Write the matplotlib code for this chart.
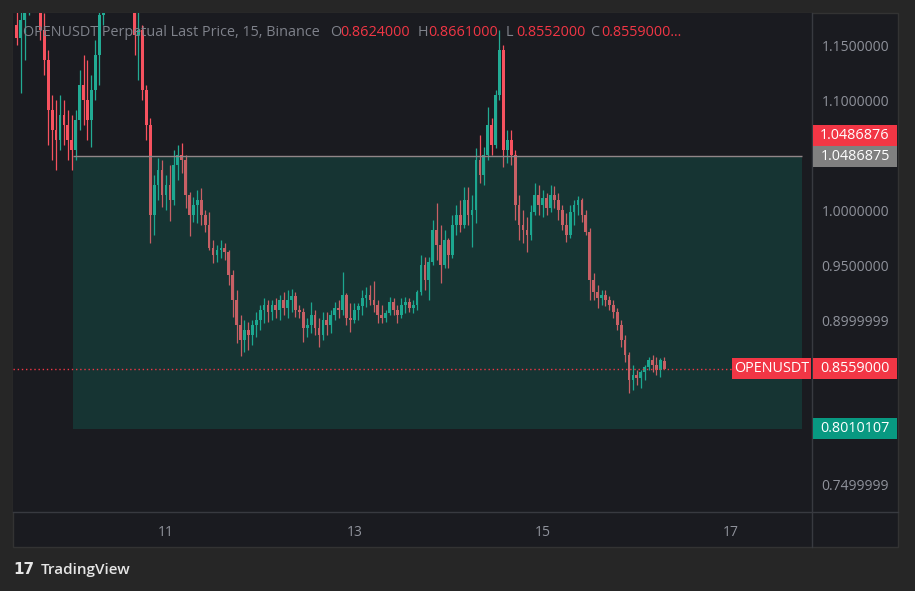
import matplotlib
matplotlib.use("Agg")
import matplotlib.pyplot as plt
from matplotlib.patches import Rectangle
import numpy as np

# ---------------- data (hourly candles) ----------------
start_day = 9.4167          # first candle time (day of month)
step_day = 1.0 / 24.0       # candle spacing

opens = [1.1682, 1.1564, 1.1727, 1.1864, 1.2000, 1.1955, 1.1909, 1.1636, 1.1364, 1.0909,
         1.0727, 1.0636, 1.0864, 1.0773, 1.0636, 1.0545, 1.0818, 1.1136, 1.1000, 1.0818,
         1.1091, 1.1409, 1.1773, 1.1909, 1.2000, 1.2091, 1.2136, 1.2182, 1.2091, 1.2045,
         1.2000, 1.1591, 1.1636, 1.1091, 1.0773, 0.9955, 1.0227, 1.0364, 1.0136, 1.0227,
         1.0091, 1.0409, 1.0500, 1.0455, 1.0136, 0.9955, 1.0045, 1.0091, 0.9955, 0.9864,
         0.9655, 0.9591, 0.9636, 0.9655, 0.9618, 0.9409, 0.9182, 0.8955, 0.8818, 0.8909,
         0.8864, 0.8955, 0.9000, 0.9091, 0.9136, 0.9073, 0.9136, 0.9091, 0.9182, 0.9109,
         0.9182, 0.9218, 0.9091, 0.9073, 0.8927, 0.8955, 0.9045, 0.8927, 0.8864, 0.9000,
         0.8955, 0.9045, 0.9109, 0.9091, 0.9227, 0.9018, 0.9000, 0.9091, 0.9127, 0.9200,
         0.9227, 0.9182, 0.9136, 0.9045, 0.9018, 0.9064, 0.9164, 0.9091, 0.9045, 0.9136,
         0.9164, 0.9109, 0.9136, 0.9255, 0.9500, 0.9364, 0.9527, 0.9818, 0.9682, 0.9500,
         0.9727, 0.9591, 0.9864, 0.9955, 0.9864, 1.0091, 0.9955, 1.0000, 1.0455, 1.0318,
         1.0500, 1.0773, 1.0591, 1.1045, 1.1455, 1.0545, 1.0636, 1.0500, 1.0045, 0.9864,
         0.9818, 0.9773, 0.9982, 1.0136, 1.0045, 1.0109, 1.0018, 1.0136, 1.0091, 1.0000,
         0.9864, 0.9773, 0.9982, 1.0045, 1.0091, 0.9955, 0.9800, 0.9364, 0.9255, 0.9200,
         0.9227, 0.9182, 0.9136, 0.9073, 0.8955, 0.8818, 0.8682, 0.8455, 0.8500, 0.8473,
         0.8527, 0.8573, 0.8636, 0.8591, 0.8545, 0.8624]

highs = [1.1864, 1.1818, 1.1955, 1.2091, 1.2136, 1.2091, 1.2000, 1.1791, 1.1455, 1.1045,
         1.1000, 1.1045, 1.1000, 1.0909, 1.0864, 1.0909, 1.1273, 1.1409, 1.1364, 1.1227,
         1.1545, 1.1864, 1.2000, 1.2091, 1.2136, 1.2227, 1.2273, 1.2273, 1.2182, 1.2136,
         1.2091, 1.1909, 1.1682, 1.1136, 1.0836, 1.0318, 1.0473, 1.0455, 1.0318, 1.0409,
         1.0545, 1.0591, 1.0609, 1.0500, 1.0164, 1.0118, 1.0182, 1.0200, 1.0000, 0.9982,
         0.9727, 0.9682, 0.9727, 0.9700, 0.9636, 0.9455, 0.9273, 0.9045, 0.9000, 0.8982,
         0.9000, 0.9073, 0.9136, 0.9200, 0.9182, 0.9182, 0.9200, 0.9227, 0.9255, 0.9273,
         0.9282, 0.9255, 0.9136, 0.9109, 0.9018, 0.9164, 0.9091, 0.9018, 0.9073, 0.9073,
         0.9091, 0.9164, 0.9182, 0.9436, 0.9245, 0.9155, 0.9155, 0.9155, 0.9273, 0.9300,
         0.9318, 0.9355, 0.9182, 0.9136, 0.9091, 0.9209, 0.9200, 0.9136, 0.9200, 0.9209,
         0.9200, 0.9182, 0.9273, 0.9591, 0.9573, 0.9573, 0.9909, 1.0064, 0.9864, 0.9818,
         0.9745, 0.9955, 1.0045, 1.0091, 1.0209, 1.0209, 1.0136, 1.0564, 1.0682, 1.0573,
         1.0936, 1.0836, 1.1091, 1.1636, 1.1500, 1.0727, 1.0727, 1.0545, 1.0136, 1.0000,
         0.9936, 1.0045, 1.0245, 1.0227, 1.0182, 1.0155, 1.0227, 1.0218, 1.0155, 1.0045,
         0.9973, 1.0045, 1.0091, 1.0127, 1.0109, 1.0000, 0.9836, 0.9427, 0.9318, 0.9273,
         0.9273, 0.9218, 0.9182, 0.9109, 0.9000, 0.8864, 0.8709, 0.8591, 0.8545, 0.8545,
         0.8591, 0.8664, 0.8682, 0.8664, 0.8655, 0.8661]

lows = [1.1500, 1.1064, 1.1364, 1.1773, 1.1864, 1.1818, 1.1545, 1.1227, 1.0591, 1.0455,
        1.0364, 1.0545, 1.0591, 1.0455, 1.0364, 1.0455, 1.0727, 1.0773, 1.0636, 1.0573,
        1.1000, 1.1136, 1.1682, 1.1864, 1.1909, 1.2000, 1.2045, 1.2045, 1.1955, 1.1909,
        1.1409, 1.1182, 1.1000, 1.0636, 0.9700, 0.9773, 1.0091, 1.0027, 1.0000, 0.9900,
        1.0045, 1.0273, 1.0336, 1.0018, 0.9764, 0.9891, 0.9882, 0.9864, 0.9800, 0.9636,
        0.9518, 0.9527, 0.9564, 0.9545, 0.9318, 0.9027, 0.8791, 0.8673, 0.8709, 0.8727,
        0.8773, 0.8845, 0.8909, 0.8973, 0.8982, 0.9000, 0.9018, 0.9000, 0.9045, 0.9018,
        0.9073, 0.9027, 0.9018, 0.8800, 0.8845, 0.8882, 0.8864, 0.8755, 0.8818, 0.8864,
        0.8882, 0.9000, 0.9018, 0.9045, 0.8955, 0.8891, 0.8973, 0.9000, 0.9045, 0.9118,
        0.9136, 0.9073, 0.8973, 0.8973, 0.8982, 0.9045, 0.9045, 0.8973, 0.9018, 0.9064,
        0.9073, 0.9064, 0.9091, 0.9227, 0.9273, 0.9182, 0.9500, 0.9545, 0.9336, 0.9473,
        0.9473, 0.9564, 0.9773, 0.9800, 0.9836, 0.9864, 0.9664, 0.9882, 1.0245, 1.0227,
        1.0455, 1.0500, 1.0564, 1.1000, 1.0391, 1.0427, 1.0409, 0.9909, 0.9727, 0.9700,
        0.9618, 0.9727, 0.9955, 0.9955, 0.9936, 0.9955, 0.9982, 1.0018, 0.9909, 0.9818,
        0.9709, 0.9745, 0.9864, 0.9955, 0.9891, 0.9773, 0.9182, 0.9182, 0.9109, 0.9136,
        0.9127, 0.9091, 0.9018, 0.8909, 0.8755, 0.8618, 0.8336, 0.8364, 0.8409, 0.8382,
        0.8455, 0.8545, 0.8527, 0.8500, 0.8482, 0.8552]

closes = [1.1564, 1.1727, 1.1864, 1.2000, 1.1955, 1.1909, 1.1636, 1.1364, 1.0909, 1.0727,
          1.0636, 1.0864, 1.0773, 1.0636, 1.0545, 1.0818, 1.1136, 1.1000, 1.0818, 1.1091,
          1.1409, 1.1773, 1.1909, 1.2000, 1.2091, 1.2136, 1.2182, 1.2091, 1.2045, 1.2000,
          1.1591, 1.1636, 1.1091, 1.0773, 0.9955, 1.0227, 1.0364, 1.0136, 1.0227, 1.0091,
          1.0409, 1.0500, 1.0455, 1.0136, 0.9955, 1.0045, 1.0091, 0.9955, 0.9864, 0.9655,
          0.9591, 0.9636, 0.9655, 0.9618, 0.9409, 0.9182, 0.8955, 0.8818, 0.8909, 0.8864,
          0.8955, 0.9000, 0.9091, 0.9136, 0.9073, 0.9136, 0.9091, 0.9182, 0.9109, 0.9182,
          0.9218, 0.9091, 0.9073, 0.8927, 0.8955, 0.9045, 0.8927, 0.8864, 0.9000, 0.8955,
          0.9045, 0.9109, 0.9091, 0.9227, 0.9018, 0.9000, 0.9091, 0.9127, 0.9200, 0.9227,
          0.9182, 0.9136, 0.9045, 0.9018, 0.9064, 0.9164, 0.9091, 0.9045, 0.9136, 0.9164,
          0.9109, 0.9136, 0.9255, 0.9500, 0.9364, 0.9527, 0.9818, 0.9682, 0.9500, 0.9727,
          0.9591, 0.9864, 0.9955, 0.9864, 1.0091, 0.9955, 1.0000, 1.0455, 1.0318, 1.0500,
          1.0773, 1.0591, 1.1045, 1.1455, 1.0545, 1.0636, 1.0500, 1.0045, 0.9864, 0.9818,
          0.9773, 0.9982, 1.0136, 1.0045, 1.0109, 1.0018, 1.0136, 1.0091, 1.0000, 0.9864,
          0.9773, 0.9982, 1.0045, 1.0091, 0.9955, 0.9800, 0.9364, 0.9255, 0.9200, 0.9227,
          0.9182, 0.9136, 0.9073, 0.8955, 0.8818, 0.8682, 0.8455, 0.8500, 0.8473, 0.8527,
          0.8573, 0.8636, 0.8591, 0.8545, 0.8636, 0.8559]

x_tick_days = [11, 13, 15, 17]
x_tick_labels = ["11", "13", "15", "17"]
# ticks visible on the price scale (1.05, 0.85 and 0.80 sit under the price labels)
y_tick_values = [0.75, 0.90, 0.95, 1.00, 1.10, 1.15]
y_tick_labels = ["0.7499999", "0.8999999", "0.9500000",
                 "1.0000000", "1.1000000", "1.1500000"]

zone_top = 1.0486875
zone_top_alt = 1.0486876
zone_bottom = 0.8010107
zone_start_day = 10.012
zone_end_day = 17.754
last_price = 0.8559

title_main = "OPENUSDT Perpetual Last Price, 15, Binance"
ohlc_labels = ["O", "H", "L", "C"]
ohlc_values = ["0.8624000", "0.8661000", "0.8552000", "0.8559000..."]

# ---------------- style ----------------
UP = "#22ab94"
DOWN = "#f7525f"
BG_OUT = "#262626"
BG = "#1a1b20"
AXIS_TXT = "#8f929b"
SEP = "#383a40"
FONT = "Open Sans"

W, H = 915, 591
fig = plt.figure(figsize=(W / 100, H / 100), dpi=100, facecolor=BG_OUT)

# pixel layout
PL, PT, PR, PB = 13, 13, 812, 512     # plot area
AR, AB = 898, 547                      # outer chart panel right / bottom

def fx(px):
    return px / W

def fy(py):
    return 1 - py / H

# chart panel background
fig.patches.append(Rectangle((fx(PL), fy(AB)), fx(AR) - fx(PL), fy(PT) - fy(AB),
                             transform=fig.transFigure, facecolor=BG,
                             edgecolor="#333333", linewidth=1, zorder=-10))

ax = fig.add_axes([fx(PL), fy(PB), fx(PR) - fx(PL), fy(PT) - fy(PB)])
ax.set_zorder(1)
ax.set_facecolor(BG)
ymin, ymax = 0.72545, 1.1791
xmin, xmax = 9.3758, 17.860
ax.set_xlim(xmin, xmax)
ax.set_ylim(ymin, ymax)
for s in ax.spines.values():
    s.set_visible(False)

# candles
o = np.array(opens); h = np.array(highs); l = np.array(lows); c = np.array(closes)
t = start_day + step_day * np.arange(len(o))
cols = np.where(c >= o, UP, DOWN)
ax.vlines(t, l, h, colors=cols, linewidth=0.9, zorder=2)
body_bot = np.minimum(o, c)
body_h = np.maximum(np.abs(c - o), 0.0006)
ax.bar(t, body_h, bottom=body_bot, width=step_day * 0.7, color=cols,
       linewidth=0, zorder=2)

# position zone
ax.add_patch(Rectangle((zone_start_day, zone_bottom), zone_end_day - zone_start_day,
                       zone_top - zone_bottom, facecolor="#089981", alpha=0.2,
                       edgecolor="none", zorder=3))
ax.hlines(zone_top, zone_start_day, zone_end_day, color="#918688", linewidth=1, zorder=4)

# last price dotted line
ax.axhline(last_price, color="#f23645", linewidth=1, linestyle=(0, (1, 2)), zorder=4)

# ticks
ax.set_xticks(x_tick_days)
ax.set_xticklabels(x_tick_labels)
ax.yaxis.tick_right()
ax.set_yticks(y_tick_values)
ax.set_yticklabels(y_tick_labels)
ax.tick_params(axis="both", length=0, colors=AXIS_TXT, labelsize=10)
ax.tick_params(axis="x", pad=9)
ax.tick_params(axis="y", pad=7)
for lab in ax.get_xticklabels() + ax.get_yticklabels():
    lab.set_fontfamily(FONT)

# separators
fig.add_artist(plt.Line2D([fx(PR), fx(PR)], [fy(PT), fy(AB)], transform=fig.transFigure,
                          color=SEP, linewidth=1, zorder=3))
fig.add_artist(plt.Line2D([fx(PL), fx(AR)], [fy(PB), fy(PB)], transform=fig.transFigure,
                          color=SEP, linewidth=1, zorder=3))

# price -> pixel y
def price_py(p):
    return PT + (ymax - p) / (ymax - ymin) * (PB - PT)

def price_label(py_center, text, color, x0=813, x1=897, hgt=21, tcolor="white"):
    fig.add_artist(Rectangle((fx(x0), fy(py_center + hgt / 2)), fx(x1) - fx(x0),
                             fy(py_center - hgt / 2) - fy(py_center + hgt / 2),
                             transform=fig.transFigure, facecolor=color,
                             edgecolor="none", zorder=5))
    fig.text(fx((x0 + x1) / 2), fy(py_center), text, color=tcolor, fontsize=10.4,
             fontfamily=FONT, ha="center", va="center", zorder=6, fontweight="medium")

gy = price_py(zone_top)
price_label(gy, f"{zone_top:.7f}", "#808080")
price_label(gy - 20.5, f"{zone_top_alt:.7f}", "#f23645")
ly = price_py(last_price)
price_label(ly, f"{last_price:.7f}", "#f23645")
price_label(ly, "OPENUSDT", "#f23645", x0=732, x1=811)
price_label(price_py(zone_bottom), f"{zone_bottom:.7f}", "#089981")

# title / legend line
ty = fy(33)
TS = 10.4
fig.text(fx(23), ty, title_main, color="#7f828b", fontsize=TS, fontfamily=FONT,
         va="center", ha="left", zorder=6)
lab_x = [330, 418, 506, 590]
val_x = [340, 428, 516, 601]
for lx, vx, lb, vv in zip(lab_x, val_x, ohlc_labels, ohlc_values):
    fig.text(fx(lx), ty, lb, color="#7f828b", fontsize=TS, fontfamily=FONT,
             va="center", ha="left", zorder=6)
    fig.text(fx(vx), ty, vv, color="#f23645", fontsize=TS, fontfamily=FONT,
             va="center", ha="left", zorder=6)

# TradingView logo
fig.text(fx(13), fy(570), "17", color="#e6e6e6", fontsize=11, fontweight="heavy",
         fontfamily="DejaVu Sans", va="center", ha="left")
fig.text(fx(41), fy(570), "TradingView", color="#e6e6e6", fontsize=11,
         fontfamily=FONT, va="center", ha="left", fontweight="semibold")

fig.savefig("out.png", dpi=100, facecolor=BG_OUT)
